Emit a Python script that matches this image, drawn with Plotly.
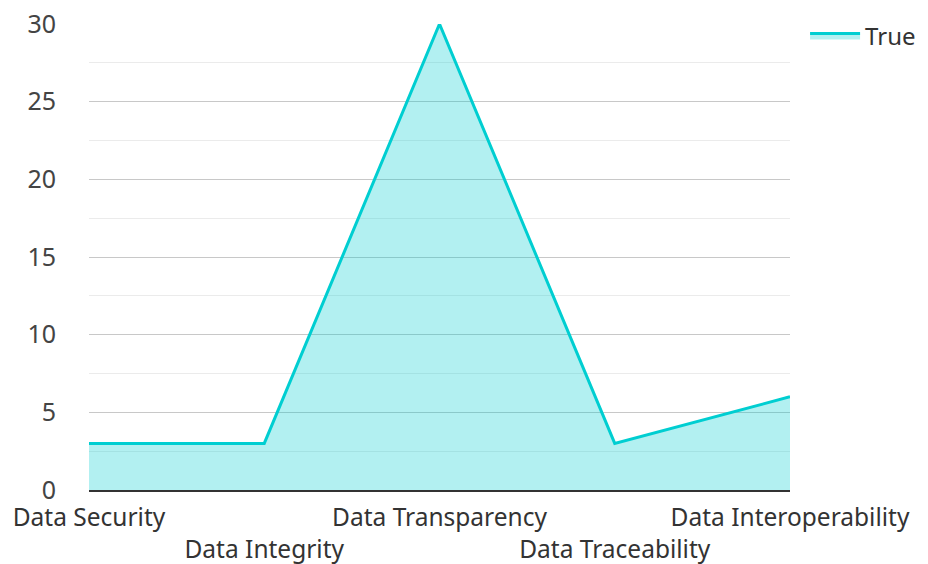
import plotly.graph_objects as go

categories = ["Data Security", "Data Integrity", "Data Transparency", "Data Traceability", "Data Interoperability"]
values = [3, 3, 30, 3, 6]
series_name = "True"
y_ticks = [0, 5, 10, 15, 20, 25, 30]

ticktext = [c if i % 2 == 0 else "<br>" + c for i, c in enumerate(categories)]

fig = go.Figure()
fig.add_trace(go.Scatter(
    x=categories, y=values, name=series_name, mode="lines",
    line=dict(color="#00CED1", width=3),
    fill="tozeroy", fillcolor="rgba(0,206,209,0.3)",
))

fig.update_layout(
    width=928, height=564,
    margin=dict(l=81, r=146, t=16, b=82, autoexpand=False),
    plot_bgcolor="white", paper_bgcolor="white",
    font=dict(family="Noto Sans", size=24, color="#333"),
    showlegend=True,
    legend=dict(x=1.0215, y=1.023, xanchor="left", yanchor="top", itemwidth=50,
                font=dict(size=24, color="#333"), bgcolor="rgba(0,0,0,0)"),
    xaxis=dict(
        tickmode="array", tickvals=categories, ticktext=ticktext, tickangle=0,
        automargin=False, ticklabelstandoff=5,
        range=[0, 4], showgrid=False, showline=True, linecolor="#333", linewidth=2,
        ticks="", tickfont=dict(size=24.5, color="#333"), zeroline=False,
    ),
    yaxis=dict(
        range=[0, 30], tickvals=y_ticks, showgrid=True, gridcolor="#c8c8c8", gridwidth=1,
        minor=dict(dtick=2.5, showgrid=True, gridcolor="#ebebeb", gridwidth=1),
        zeroline=False, showline=False, ticks="", automargin=False,
        ticklabelstandoff=32, ticklabeloverflow="allow",
        tickfont=dict(size=25, color="#444"),
    ),
)

fig.write_html("out.html")
